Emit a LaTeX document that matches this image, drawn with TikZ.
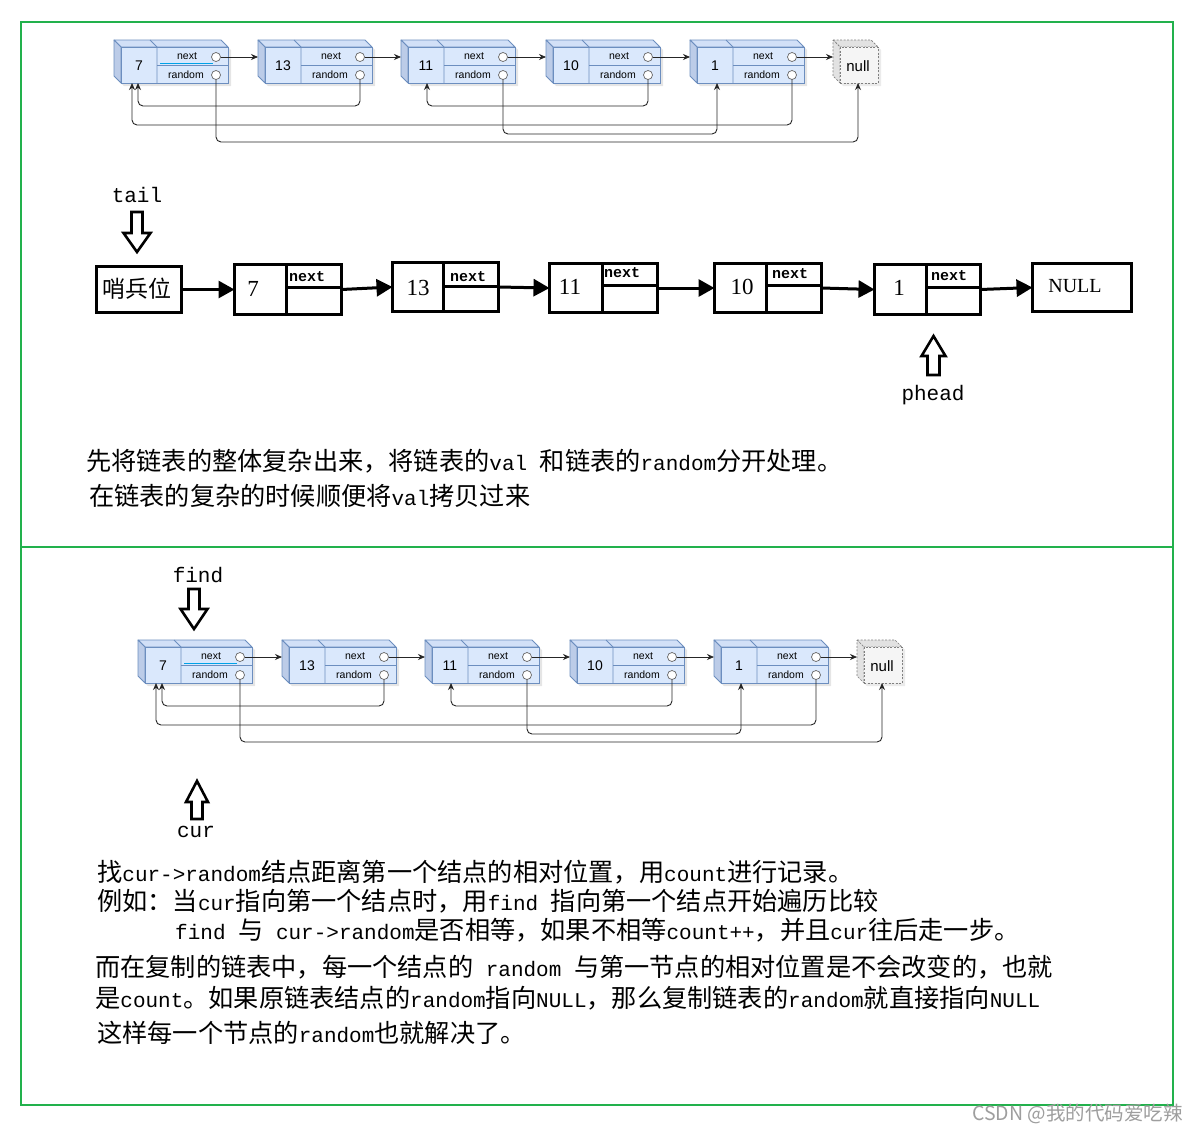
\documentclass[tikz,border=0pt]{standalone}
\usepackage{fontspec}
\setmainfont{Liberation Serif}
\newfontfamily\cjkf{Noto Sans CJK SC}
\newfontfamily\latf[Scale=0.8333]{Liberation Mono}
\newfontfamily\monof{Liberation Mono}
\newfontfamily\sansf{Liberation Sans}
\usetikzlibrary{arrows.meta,calc}

\definecolor{frameg}{HTML}{22B14C}
\definecolor{cubefill}{HTML}{DAE8FC}
\definecolor{cubetop}{HTML}{D2E0F7}
\definecolor{cubeleft}{HTML}{BCCCE8}
\definecolor{cubestroke}{HTML}{6C8EBF}
\definecolor{nullfill}{HTML}{F5F5F5}
\definecolor{nullside}{HTML}{E2E2E2}
\definecolor{nullstroke}{HTML}{808080}
\definecolor{selcyan}{HTML}{00A2E8}

\tikzset{
  frame/.style={draw=frameg, line width=2.5pt},
  cubeface/.style={draw=cubestroke, line width=0.8pt, line join=round},
  cubefront/.style={draw=cubestroke, fill=cubefill, line width=0.8pt, minimum width=107pt, minimum height=36pt, inner sep=0pt, outer sep=0pt},
  cubeval/.style={font=\sansf\fontsize{14}{14}\selectfont, inner sep=0pt},
  cubelbl/.style={font=\sansf\fontsize{10.5}{10.5}\selectfont, inner sep=0pt},
  pinc/.style={circle, draw=black!60, fill=white, line width=0.7pt, minimum size=9pt, inner sep=0pt, outer sep=0pt},
  nullface/.style={draw=nullstroke, dashed, dash pattern=on 2pt off 1.5pt, line width=0.7pt},
  nullfront/.style={draw=nullstroke, fill=nullfill, dash pattern=on 2pt off 1.5pt, line width=0.7pt, minimum width=38pt, minimum height=36pt, inner sep=0pt, outer sep=0pt},
  nulltxt/.style={font=\sansf\fontsize{15}{15}\selectfont, inner sep=0pt},
  nxt/.style={draw=black!85, line width=0.8pt, -{Stealth[length=7pt,width=6pt]}},
  rnd/.style={draw=black!85, line width=0.9pt, rounded corners=5pt, -{Stealth[length=7pt,width=6pt]}},
  mbx/.style={draw=black, line width=3pt, inner sep=0pt, outer sep=0pt},
  mbline/.style={draw=black, line width=3pt},
  midnum/.style={font=\fontsize{23}{23}\selectfont, inner sep=0pt},
  midnext/.style={font=\monof\bfseries\fontsize{15}{15}\selectfont, inner sep=0pt, anchor=west},
  fat/.style={draw=black, line width=3pt, -{Triangle[length=16pt,width=17pt]}},
  hollow/.style={draw=black, fill=white, line width=2.6pt, line join=miter},
  ptr/.style={font=\monof\fontsize{21}{21}\selectfont, inner sep=0pt},
  txt/.style={anchor=west, inner sep=0pt, font=\cjkf\fontsize{25.2}{30}\selectfont}
}

\newcommand\cubenode[4]{%
  \fill[black, opacity=0.10] (#2-4,#3-4) -- (#2+103,#3-4) -- (#2+110,#3+3) -- (#2+110,#3+39) -- (#2+3,#3+39) -- (#2-4,#3+32) -- cycle;
  \filldraw[cubeface, fill=cubetop] (#2-7,#3-7) -- (#2+100,#3-7) -- (#2+107,#3) -- (#2,#3) -- cycle;
  \filldraw[cubeface, fill=cubeleft] (#2-7,#3-7) -- (#2,#3) -- (#2,#3+36) -- (#2-7,#3+29) -- cycle;
  \node[cubefront, anchor=north west] (#1) at (#2,#3) {};
  \draw[cubeface] (#2+29,#3-7) -- (#2+36,#3) -- (#2+36,#3+36);
  \draw[cubeface] (#2+36,#3+18) -- (#2+107,#3+18);
  \node[cubeval] (#1v) at (#2+18,#3+18.5) {#4};
  \node[cubelbl] (#1tn) at (#2+66,#3+9.5) {next};
  \node[cubelbl] (#1tr) at (#2+65,#3+27.5) {random};
  \node[pinc] (#1n) at (#2+95,#3+10) {};
  \node[pinc] (#1r) at (#2+95,#3+28) {};
  \coordinate (#1in) at (#2-7,#3+10);
}

\newcommand\nullcube[3]{%
  \fill[black, opacity=0.08] (#2-4,#3-4) -- (#2+34,#3-4) -- (#2+41,#3+3) -- (#2+41,#3+39) -- (#2+3,#3+39) -- (#2-4,#3+32) -- cycle;
  \filldraw[nullface, fill=nullside] (#2-7,#3-7) -- (#2+31,#3-7) -- (#2+38,#3) -- (#2,#3) -- cycle;
  \filldraw[nullface, fill=nullside] (#2-7,#3-7) -- (#2,#3) -- (#2,#3+36) -- (#2-7,#3+29) -- cycle;
  \node[nullfront, anchor=north west] (#1) at (#2,#3) {};
  \node[nulltxt] (#1t) at (#2+18,#3+19) {null};
  \coordinate (#1in) at (#2-7,#3+10);
}

\newcommand\midbox[7]{%
  \node[mbx, minimum width={(#4-#2-3)*1pt}, minimum height={(#5-#3-3)*1pt}] (#1) at ({(#2+#4)/2},{(#3+#5)/2}) {};
  \draw[mbline] (#6,#3+1.5) -- (#6,#5-1.5);
  \draw[mbline] (#6,#7) -- (#4-1.5,#7);
}

\begin{document}
\begin{tikzpicture}[x=1pt,y=-1pt]
\useasboundingbox (0,0) rectangle (1198,1133);
\fill[white] (0,0) rectangle (1198,1133);

% green frames
\draw[frame] (21,22) rectangle (1173,547);
\draw[frame] (21,547) rectangle (1173,1105);

% two copies of the drawn linked list
\foreach \dx/\dy in {0/0,24/600}{
\begin{scope}[shift={(\dx,\dy)}]
  \cubenode{a}{121}{47}{7}
  \cubenode{b}{265}{47}{13}
  \cubenode{c}{408}{47}{11}
  \cubenode{d}{553}{47}{10}
  \cubenode{e}{697}{47}{1}
  \nullcube{f}{840}{47}
  \draw[selcyan, line width=1pt] (160,63) -- (213,63);
  \coordinate (L1) at (0,106);
  \coordinate (L2) at (0,125);
  \coordinate (L3) at (0,134);
  \coordinate (L4) at (0,142);
  \draw[nxt] (an.east) -- (bin);
  \draw[nxt] (bn.east) -- (cin);
  \draw[nxt] (cn.east) -- (din);
  \draw[nxt] (dn.east) -- (ein);
  \draw[nxt] (en.east) -- (fin);
  \draw[rnd] (br.south) -- (br.south |- L1) -| ([xshift=17pt]a.south west);
  \draw[rnd] (er.south) -- (er.south |- L2) -| ([xshift=11pt]a.south west);
  \draw[rnd] (cr.south) -- (cr.south |- L3) -| ([xshift=20pt]e.south west);
  \draw[rnd] (dr.south) -- (dr.south |- L1) -| ([xshift=19pt]c.south west);
  \draw[rnd] (ar.south) -- (ar.south |- L4) -| ([xshift=-1pt]f.south);
\end{scope}
}

% middle row of boxes
\node[mbx, minimum width=85pt, minimum height=46pt] (s) at (139,289.5) {};
\node[inner sep=0pt, font=\cjkf\fontsize{23}{23}\selectfont] (st) at (137,289) {哨兵位};
\midbox{m7}{233}{263}{343}{316}{286}{287}
\midbox{m13}{391}{261}{500}{313}{443}{286}
\midbox{m11}{548}{262}{659}{314}{602}{285}
\midbox{m10}{713}{262}{823}{314}{766}{285}
\midbox{m1}{873}{263}{982}{316}{926}{287}
\node[mbx, minimum width=99pt, minimum height=48pt] (mn) at (1082,287.5) {};

\node[midnum] (t7) at (253,289) {7};
\node[midnum] (t13) at (418,288) {13};
\node[midnum] (t11) at (570,287) {11};
\node[midnum] (t10) at (742,287) {10};
\node[midnum] (t1) at (899,288) {1};
\node[midnum, font=\fontsize{20}{20}\selectfont] (tn) at (1075,286) {NULL};

\node[midnext] (x7) at (289,277) {next};
\node[midnext] (x13) at (450,277) {next};
\node[midnext] (x11) at (604,273) {next};
\node[midnext] (x10) at (772,274) {next};
\node[midnext] (x1) at (931,276) {next};

\draw[fat] (s.east) -- (m7.west);
\draw[fat] (m7.east) -- (m13.west);
\draw[fat] (m13.east) -- (m11.west);
\draw[fat] (m11.east) -- (m10.west);
\draw[fat] (m10.east) -- (m1.west);
\draw[fat] (m1.east) -- (mn.west);

% pointers
\node[ptr] (ltail) at (137,195) {tail};
\draw[hollow] (131.5,212) -- (142.5,212) -- (142.5,233) -- (150.5,233) -- (137,252) -- (123.5,233) -- (131.5,233) -- cycle;
\node[ptr] (lphead) at (933,395) {phead};
\draw[hollow] (933.5,336) -- (945.5,356) -- (939.5,356) -- (939.5,375) -- (927.5,375) -- (927.5,356) -- (921.5,356) -- cycle;
\node[ptr] (lfind) at (198,575) {find};
\draw[hollow] (188.5,589) -- (199.5,589) -- (199.5,609) -- (207.5,609) -- (194,629) -- (180.5,609) -- (188.5,609) -- cycle;
\node[ptr] (lcur) at (196,832) {cur};
\draw[hollow] (197,781) -- (208,802) -- (202.5,802) -- (202.5,819) -- (191.5,819) -- (191.5,802) -- (186,802) -- cycle;

% texts, top part
\node[txt] (p1) at (86,461) {先将链表的整体复杂出来，将链表的{\latf val }和链表的{\latf random}分开处理。};
\node[txt] (p2) at (89,496) {在链表的复杂的时候顺便将{\latf val}拷贝过来};

% texts, bottom part
\node[txt] (q1) at (97,872) {找{\latf cur->random}结点距离第一个结点的相对位置，用{\latf count}进行记录。};
\node[txt] (q2) at (97,901) {例如：当{\latf cur}指向第一个结点时，用{\latf find }指向第一个结点开始遍历比较};
\node[txt] (q3) at (175,930) {{\latf find }与{\latf\ cur->random}是否相等，如果不相等{\latf count++}，并且{\latf cur}往后走一步。};
\node[txt] (q4) at (95,967) {而在复制的链表中，每一个结点的{\latf\ random }与第一节点的相对位置是不会改变的，也就};
\node[txt] (q5) at (95,998) {是{\latf count}。如果原链表结点的{\latf random}指向{\latf NULL}，那么复制链表的{\latf random}就直接指向{\latf NULL}};
\node[txt] (q6) at (97,1033) {这样每一个节点的{\latf random}也就解决了。};

% watermark
\node[anchor=east, inner sep=0pt, text=black!38, font=\cjkf\fontsize{19.5}{19.5}\selectfont] (wm) at (1183,1114) {CSDN @我的代码爱吃辣};
\end{tikzpicture}
\end{document}
